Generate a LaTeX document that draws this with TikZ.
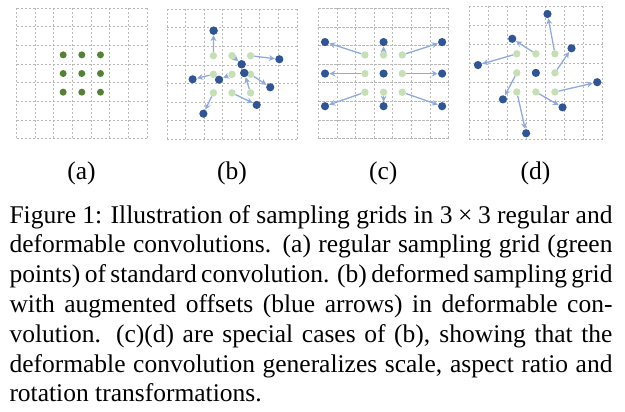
\documentclass[tikz,border=0pt]{standalone}
\usepackage{fontspec}
\setmainfont{Liberation Serif}
\usetikzlibrary{arrows.meta}
\definecolor{dgreen}{HTML}{548235}
\definecolor{lgreen}{HTML}{C5E0B4}
\definecolor{dblue}{HTML}{2F5597}
\definecolor{ablue}{HTML}{8FAADC}
\definecolor{gridgray}{HTML}{B8B8B8}
\begin{document}
\begin{tikzpicture}[x=1pt,y=-1pt,
  gridline/.style={draw=gridgray, line width=0.85pt, dash pattern=on 2.2pt off 1.8pt},
  dgdot/.style={circle, fill=dgreen, inner sep=0pt, minimum size=7pt},
  lgdot/.style={circle, fill=lgreen, inner sep=0pt, minimum size=7.4pt},
  bdot/.style={circle, fill=dblue, inner sep=0pt, minimum size=8.2pt},
  offarrow/.style={draw=ablue, line width=1.3pt, -{Stealth[length=6pt,width=6pt,inset=2pt]}, shorten >=0.2pt},
  sublabel/.style={anchor=base, font=\fontsize{25.5}{30}\selectfont, inner sep=0pt},
  capline/.style={anchor=base west, font=\fontsize{25.5}{30}\selectfont, inner sep=0pt}]
\useasboundingbox (0,0) rectangle (625,412);

% ---------- (a) ----------
\begin{scope}[xshift=16.5pt, yshift=-8.2pt, x=18.66pt, y=-18.66pt]
  \foreach \k in {0,...,7} {\draw[gridline] (\k,0) -- (\k,7); \draw[gridline] (0,\k) -- (7,\k);}
  \foreach \i in {1,2,3} \foreach \j in {1,2,3}
    \node[dgdot] (a\i\j) at ({1.5+\i},{1.5+\j}) {};
\end{scope}

% ---------- (b) ----------
\begin{scope}[xshift=167pt, yshift=-9.3pt, x=18.57pt, y=-18.57pt]
  \foreach \k in {0,...,7} {\draw[gridline] (\k,0) -- (\k,7); \draw[gridline] (0,\k) -- (7,\k);}
  \foreach \i in {1,2,3} \foreach \j in {1,2,3}
    \node[lgdot] (bg\i\j) at ({1.5+\i},{1.5+\j}) {};
  \node[bdot] (bb11) at (2.51,1.15) {};
  \node[bdot] (bb21) at (4.02,2.96) {};
  \node[bdot] (bb31) at (6.05,2.69) {};
  \node[bdot] (bb12) at (1.38,3.77) {};
  \node[bdot] (bb22) at (2.80,3.79) {};
  \node[bdot] (bb32) at (5.56,4.20) {};
  \node[bdot] (bb13) at (1.96,5.62) {};
  \node[bdot] (bb23) at (4.83,5.15) {};
  \node[bdot] (bb33) at (4.16,3.43) {};
  \foreach \k in {11,21,31,12,22,32,13,23,33}
    \draw[offarrow] (bg\k) -- (bb\k);
  \node[bdot] at (bb11) {};
  \node[bdot] at (bb21) {};
  \node[bdot] at (bb33) {};
\end{scope}

% ---------- (c) ----------
\begin{scope}[xshift=318.3pt, yshift=-8.3pt, x=18.65pt, y=-18.65pt]
  \foreach \k in {0,...,7} {\draw[gridline] (\k,0) -- (\k,7); \draw[gridline] (0,\k) -- (7,\k);}
  \foreach \i in {1,2,3} \foreach \j in {1,2,3}
    \node[lgdot] (cg\i\j) at ({1.5+\i},{1.5+\j}) {};
  \node[bdot] (cb11) at (0.36,1.81) {};
  \node[bdot] (cb21) at (3.5,1.81) {};
  \node[bdot] (cb31) at (6.64,1.81) {};
  \node[bdot] (cb12) at (0.36,3.5) {};
  \node[bdot] (cb22) at (3.5,3.5) {};
  \node[bdot] (cb32) at (6.64,3.5) {};
  \node[bdot] (cb13) at (0.36,5.25) {};
  \node[bdot] (cb23) at (3.5,5.25) {};
  \node[bdot] (cb33) at (6.64,5.25) {};
  \foreach \k in {11,21,31,12,32,13,23,33}
    \draw[offarrow] (cg\k) -- (cb\k);
\end{scope}

% ---------- (d) ----------
\begin{scope}[xshift=469.2pt, yshift=-6.2pt, x=19.05pt, y=-19.05pt]
  \foreach \k in {0,...,7} {\draw[gridline] (\k,0) -- (\k,7); \draw[gridline] (0,\k) -- (7,\k);}
  \foreach \i in {1,2,3} \foreach \j in {1,2,3}
    \node[lgdot] (dg\i\j) at ({1.5+\i},{1.5+\j}) {};
  \node[bdot] (db11) at (0.46,3.09) {};
  \node[bdot] (db21) at (2.26,1.71) {};
  \node[bdot] (db31) at (4.11,0.41) {};
  \node[bdot] (db12) at (1.77,4.89) {};
  \node[bdot] (db22) at (3.5,3.5) {};
  \node[bdot] (db32) at (5.37,2.21) {};
  \node[bdot] (db13) at (2.99,6.67) {};
  \node[bdot] (db23) at (4.90,5.31) {};
  \node[bdot] (db33) at (6.72,3.99) {};
  \foreach \k in {11,21,31,12,32,13,23,33}
    \draw[offarrow] (dg\k) -- (db\k);
\end{scope}

% ---------- sub labels ----------
\node[sublabel] (la) at (81.5,179.5) {(a)};
\node[sublabel] (lb) at (232,179.5) {(b)};
\node[sublabel] (lc) at (383.3,179.5) {(c)};
\node[sublabel] (ld) at (535.5,179.5) {(d)};

% ---------- caption ----------
\node[capline] (cap1) at (9.3,223) {\makebox[603pt][s]{Figure 1: Illustration of sampling grids in 3\kern0.22em×\kern0.22em3 regular and}};
\node[capline] (cap2) at (9.3,252.8) {\makebox[603pt][s]{deformable convolutions. (a) regular sampling grid (green}};
\node[capline] (cap3) at (9.3,282.6) {\makebox[603pt][s]{points) of standard convolution. (b) deformed sampling grid}};
\node[capline] (cap4) at (9.3,312.4) {\makebox[603pt][s]{with augmented offsets (blue arrows) in deformable con-}};
\node[capline] (cap5) at (9.3,342.2) {\makebox[603pt][s]{volution. (c)(d) are special cases of (b), showing that the}};
\node[capline] (cap6) at (9.3,372) {\makebox[603pt][s]{deformable convolution generalizes scale, aspect ratio and}};
\node[capline] (cap7) at (9.3,401.8) {rotation transformations.};
\end{tikzpicture}
\end{document}
